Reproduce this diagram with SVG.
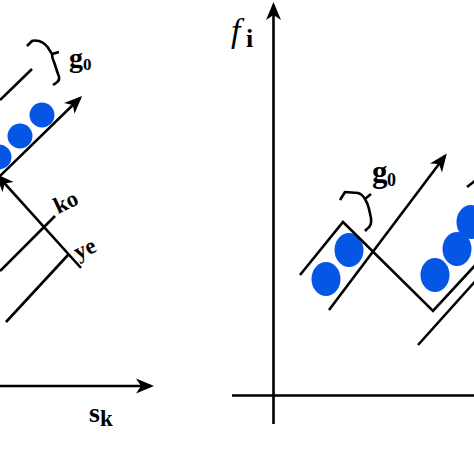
<svg xmlns="http://www.w3.org/2000/svg" width="474" height="474" viewBox="0 0 474 474">
<style>
.ln{stroke:#000;stroke-width:2.6;fill:none;stroke-linecap:butt}
.br{stroke:#000;stroke-width:2.6;fill:none;stroke-linecap:butt;stroke-linejoin:round}
.ball{fill:#0656e6}
.lb{font-family:"Liberation Serif","Times New Roman",serif;font-weight:bold;fill:#000}
</style>
<defs>
<marker id="ah" viewBox="-18 -10 22 20" markerWidth="22" markerHeight="20" refX="0" refY="0" orient="auto" markerUnits="userSpaceOnUse">
<path d="M3,0 L-15,-7.5 L-10,0 L-15,7.5 Z" fill="#000"/>
</marker>
</defs>
<rect width="474" height="474" fill="#fff"/>

<g id="left-panel">
<g id="left-balls">
<circle class="ball" cx="42" cy="115" r="12.5"/>
<circle class="ball" cx="20" cy="136" r="12.5"/>
<circle class="ball" cx="-1" cy="157" r="12.5"/>
</g>
<g id="left-lines">
<line class="ln" x1="0" y1="100" x2="32" y2="69"/>
<line class="ln" x1="-2" y1="178" x2="80" y2="98" marker-end="url(#ah)"/>
<line class="ln" x1="81" y1="268" x2="-2" y2="176" marker-end="url(#ah)"/>
<line class="ln" x1="0" y1="271" x2="55" y2="216"/>
<line class="ln" x1="6" y1="322" x2="68" y2="255"/>
<line class="ln" x1="0" y1="386" x2="151" y2="386" marker-end="url(#ah)"/>
</g>
<path id="left-brace" class="br" d="M27,46 L32,41 Q34,40 39,41 Q46,43 50,51 L52,54 L59,52 M52,54 Q52,58 54,62 L58,74 Q61,80 56,83 L53,85"/>
<g id="left-labels">
<text class="lb" x="69" y="67" font-size="28">g</text>
<text class="lb" x="83" y="70" font-size="17">0</text>
<text class="lb" x="58" y="214" font-size="23" transform="rotate(-25 58 214)">ko</text>
<text class="lb" x="78" y="260" font-size="23" transform="rotate(-25 78 260)">ye</text>
<text class="lb" x="89" y="422" font-size="28">s</text>
<text class="lb" x="100" y="426" font-size="23">k</text>
</g>
</g>

<g id="right-panel">
<g id="axes">
<line class="ln" x1="273.5" y1="424" x2="273.5" y2="5" marker-end="url(#ah)"/>
<line class="ln" x1="232" y1="395.5" x2="474" y2="395.5"/>
</g>
<g id="right-balls">
<ellipse class="ball" cx="326" cy="279" rx="14.5" ry="17"/>
<ellipse class="ball" cx="349" cy="250" rx="14.5" ry="17"/>
<ellipse class="ball" cx="435" cy="275" rx="14.5" ry="17"/>
<ellipse class="ball" cx="457" cy="249" rx="14.5" ry="17"/>
<ellipse class="ball" cx="471" cy="222" rx="14.5" ry="17"/>
</g>
<g id="right-lines">
<polyline class="ln" points="300,275 343,222 433,311 480,260"/>
<line class="ln" x1="418" y1="345" x2="480" y2="276"/>
<line class="ln" x1="329" y1="310" x2="445" y2="156" marker-end="url(#ah)"/>
<line class="ln" x1="467" y1="187" x2="476" y2="180"/>
</g>
<path id="right-brace" class="br" d="M340,200 L345,192 L358,193 Q362,194 365,199 L371,194 M365,199 Q368,204 369,209 L371,218 Q372,226 367,229 L365,231"/>
<g id="right-labels">
<text x="231" y="42" font-size="34" font-family="Liberation Serif,'Times New Roman',serif" font-style="italic" fill="#000">f</text>
<text class="lb" x="246" y="47" font-size="26">i</text>
<text class="lb" x="372" y="182" font-size="31">g</text>
<text class="lb" x="387" y="186" font-size="18">0</text>
</g>
</g>
</svg>
